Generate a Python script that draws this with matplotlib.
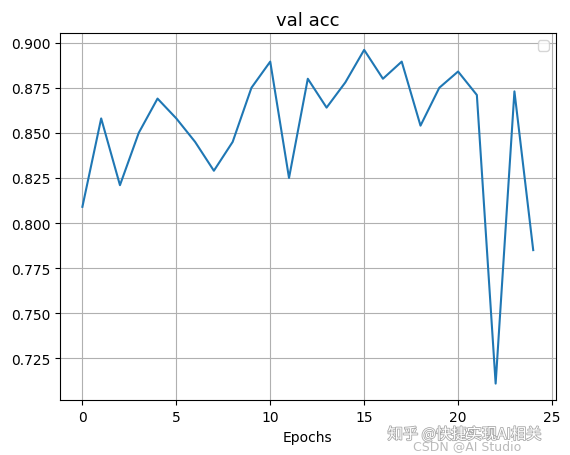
import matplotlib.pyplot as plt
import matplotlib.patheffects as pe

epochs = list(range(25))
val_acc = [0.809, 0.858, 0.821, 0.850, 0.869, 0.858, 0.845, 0.829, 0.845, 0.875,
           0.8895, 0.825, 0.880, 0.864, 0.878, 0.896, 0.880, 0.8895, 0.854, 0.875,
           0.884, 0.871, 0.711, 0.873, 0.785]

plt.rcParams['font.family'] = ['DejaVu Sans', 'Noto Sans CJK SC']
fig, ax = plt.subplots(figsize=(5.7, 4.56), dpi=100)
ax.plot(epochs, val_acc)
ax.set_title('val acc', fontsize=13)
ax.set_xlabel('Epochs')
ax.grid(True)
ax.legend()

# watermarks
fig.text(0.68, 0.035, '知乎 @快捷实现AI相关', color='white', fontsize=11,
         family=['Noto Sans CJK SC'],
         path_effects=[pe.withStroke(linewidth=1.2, foreground='#aaaaaa')])
fig.text(0.725, 0.012, 'CSDN @AI Studio', color='#bbbbbb', fontsize=9)

plt.subplots_adjust(left=0.105, right=0.975, top=0.925, bottom=0.12)
plt.savefig('out.png')
